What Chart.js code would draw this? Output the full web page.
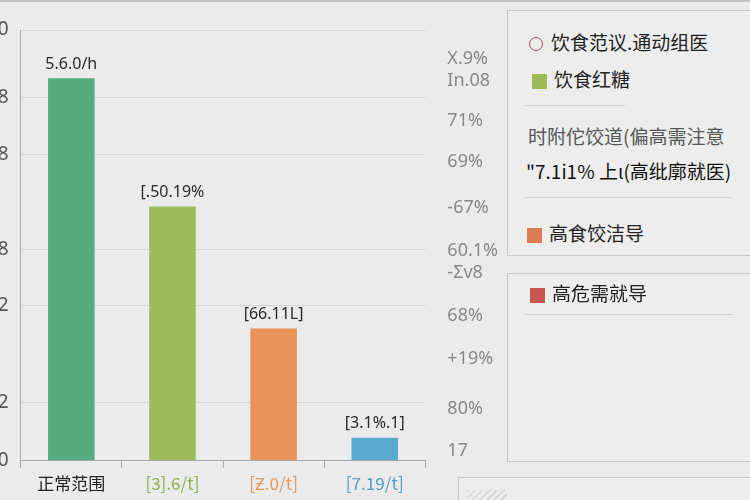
<!DOCTYPE html>
<html>
<head>
<meta charset="utf-8">
<script src="https://cdn.jsdelivr.net/npm/chart.js@4"></script>
<style>
  html, body { margin: 0; padding: 0; }
  body {
    width: 750px; height: 500px; overflow: hidden; position: relative;
    background: #ebebeb; border-top: 2px solid #c4c4c4; box-sizing: border-box;
    font-family: "Noto Sans CJK SC", "Noto Sans", sans-serif;
  }
  #wrap { position: absolute; left: -25px; top: -2px; width: 537px; height: 500px; }
  .panel { position: absolute; border: 1px solid #c6c6c6; background: #ededed; box-sizing: border-box; }
  .row { position: absolute; font-size: 19px; color: #222; white-space: nowrap; line-height: 22px; }
  .sw { display: inline-block; width: 15px; height: 15px; vertical-align: -2px; margin-right: 7px; }
  .ring { display: inline-block; width: 12px; height: 12px; border: 1.5px solid #a84455; border-radius: 50%; vertical-align: -1px; margin-right: 8px; }
  .sep { position: absolute; height: 1px; background: #d2d2d2; }
</style>
</head>
<body>
<div id="wrap"><canvas id="chart"></canvas></div>

<div class="panel" style="left:507px; top:8px; width:260px; height:246px;">
  <div class="row" style="left:21px; top:20px;"><span class="ring"></span>饮食范议.通动组医</div>
  <div class="row" style="left:24px; top:57px;"><span class="sw" style="background:#9dbb55"></span>饮食红糖</div>
  <div class="sep" style="left:17px; top:94px; width:100px;"></div>
  <div class="row" style="left:20px; top:114px; color:#555;">时附佗饺道(偏高需注意</div>
  <div class="row" style="left:18px; top:149px; color:#111;">"7.1i1% 上ι(高纰廓就医)</div>
  <div class="sep" style="left:17px; top:186px; width:206px;"></div>
  <div class="row" style="left:19px; top:211px;"><span class="sw" style="background:#de7c55"></span>高食饺洁导</div>
</div>

<div class="panel" style="left:507px; top:271px; width:260px; height:189px;">
  <div class="row" style="left:22px; top:8px;"><span class="sw" style="background:#c9574f"></span>高危需就导</div>
  <div class="sep" style="left:17px; top:40px; width:208px;"></div>
</div>

<div class="panel" style="left:458px; top:475px; width:300px; height:40px;">
  <div style="position:absolute; left:8px; top:12px; width:40px; height:20px;
    background: repeating-linear-gradient(135deg, #d8d8d8 0 2px, transparent 2px 5px);"></div>
</div>

<script>
// categories and values
const categories = ["正常范围", "[3].6/t]", "[Ƶ.0/t]", "[7.19/t]"];
const values = [8.88, 5.9, 3.07, 0.53];
const valueLabels = ["5.6.0/h", "[.50.19%", "[66.11L]", "[3.1%.1]"];
const barColors = ["#55ad7d", "#9dbb5a", "#e8945a", "#5aaad0"];
const catColors = ["#222222", "#8fb04a", "#e39a5f", "#4f9cc7"];

// left axis ticks (uneven, as in the picture)
const leftTickValues = [0, 1.35, 3.6, 4.9, 7.1, 8.44, 10];
const leftTickLabels = ["0", "2", "2", "8", "8", "8", "10"];

// right axis ticks
const rightTickValues = [9.07, 7.88, 6.93, 5.86, 4.62, 3.37, 2.37, 1.21, 0.23];
const rightTickLabels = [["X.9%", "In.08"], "71%", "69%", "-67%", ["60.1%", "-Σv8"], "68%", "+19%", "80%", "17"];

const barValueLabels = {
  id: "barValueLabels",
  afterDatasetsDraw(chart) {
    const ctx = chart.ctx;
    const meta = chart.getDatasetMeta(0);
    ctx.save();
    ctx.font = "16px 'Noto Sans', sans-serif";
    ctx.fillStyle = "#2a2a2a";
    ctx.textAlign = "center";
    ctx.textBaseline = "bottom";
    meta.data.forEach((bar, i) => {
      ctx.fillText(valueLabels[i], bar.x, bar.y - 6);
    });
    ctx.restore();
  }
};

const ctx = document.getElementById("chart").getContext("2d");

new Chart(ctx, {
  type: "bar",
  data: {
    labels: categories,
    datasets: [{
      data: values,
      backgroundColor: barColors,
      barPercentage: 0.46,
      categoryPercentage: 1
    }]
  },
  options: {
    responsive: true,
    maintainAspectRatio: false,
    animation: false,
    layout: { padding: { top: 30, left: 0, right: 0, bottom: 0 } },
    plugins: { legend: { display: false }, tooltip: { enabled: false } },
    scales: {
      x: {
        grid: { display: true, drawOnChartArea: false, tickLength: 7, color: "#aaa" },
        border: { color: "#aaa" },
        ticks: {
          color: (c) => catColors[c.index],
          font: { size: 17, family: "'Noto Sans CJK SC', 'Noto Sans', sans-serif" },
          padding: 6
        }
      },
      y: {
        min: 0, max: 10,
        afterBuildTicks: (scale) => { scale.ticks = leftTickValues.map(v => ({ value: v })); },
        grid: { color: "#d6d6d6", drawTicks: false },
        border: { color: "#aaa" },
        ticks: {
          callback: (v, i) => leftTickLabels[i],
          color: "#555",
          font: { size: 19, family: "'Noto Sans', sans-serif" },
          padding: 12
        }
      },
      y2: {
        position: "right",
        min: 0, max: 10,
        afterBuildTicks: (scale) => { scale.ticks = rightTickValues.map(v => ({ value: v })); },
        grid: { display: false },
        border: { display: false },
        ticks: {
          callback: (v, i) => rightTickLabels[i],
          color: "#888",
          font: { size: 18, family: "'Noto Sans', sans-serif" },
          padding: 14
        }
      }
    }
  },
  plugins: [barValueLabels]
});
</script>
</body>
</html>
